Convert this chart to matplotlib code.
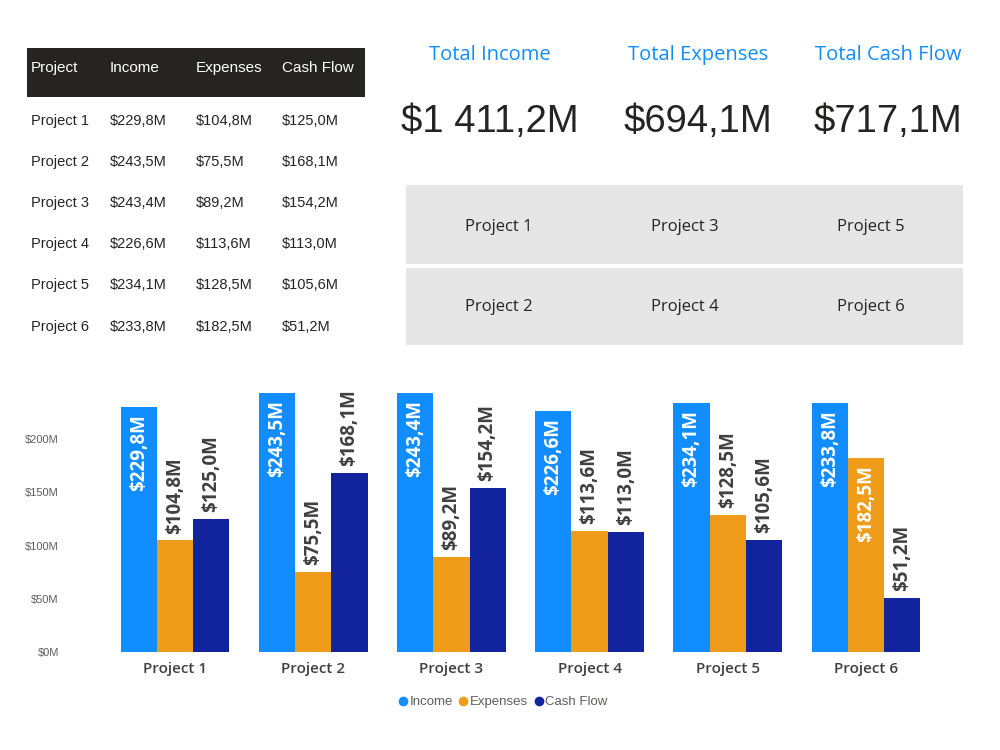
import matplotlib
matplotlib.use("Agg")
import matplotlib.pyplot as plt
from matplotlib.patches import Rectangle
from matplotlib.lines import Line2D
import numpy as np

# ---------------- data ----------------
projects = ["Project 1", "Project 2", "Project 3", "Project 4", "Project 5", "Project 6"]
income = [229.8, 243.5, 243.4, 226.6, 234.1, 233.8]
expenses = [104.8, 75.5, 89.2, 113.6, 128.5, 182.5]
cash_flow = [125.0, 168.1, 154.2, 113.0, 105.6, 51.2]
series_names = ["Income", "Expenses", "Cash Flow"]
table_headers = ["Project", "Income", "Expenses", "Cash Flow"]
kpi_titles = ["Total Income", "Total Expenses", "Total Cash Flow"]
y_ticks = [0, 50, 100, 150, 200]
inside_labels = {"Income": [True] * 6, "Expenses": [False, False, False, False, False, True],
                 "Cash Flow": [False] * 6}

# ---------------- style ----------------
C_INC = "#118DFF"
C_EXP = "#EF9C1B"
C_CF = "#12239E"
DARK = "#252423"
GRAY = "#605E5C"
NARROW = ["Liberation Sans", "DejaVu Sans"]
SEGOE = ["Open Sans", "DejaVu Sans"]

W, H = 1000, 750
fig = plt.figure(figsize=(W / 100, H / 100), dpi=100)
fig.patch.set_facecolor("white")


def fx(x):
    return x / W


def fy(y):
    return 1 - y / H


def fmt(v):
    return f"${v:.1f}M".replace(".", ",")


def fmt_total(v):
    s = f"{v:,.1f}".replace(",", " ").replace(".", ",")
    return f"${s}M"


# ---------------- table ----------------
fig.patches.append(Rectangle((fx(27), fy(97)), fx(365) - fx(27), fy(48) - fy(97),
                             transform=fig.transFigure, facecolor="#252423",
                             edgecolor="none", zorder=0))
col_x = [31, 110, 196, 282]
for cx, h in zip(col_x, table_headers):
    fig.text(fx(cx), fy(72), h, color="white", fontsize=11, family=NARROW,
             ha="left", va="baseline")
row_y = [125, 166, 207, 248, 289, 331]
for i, p in enumerate(projects):
    vals = [p, fmt(income[i]), fmt(expenses[i]), fmt(cash_flow[i])]
    for cx, v in zip(col_x, vals):
        fig.text(fx(cx), fy(row_y[i]), v, color=DARK, fontsize=10.5, family=NARROW,
                 ha="left", va="baseline")

# ---------------- KPI cards ----------------
totals = [sum(income), sum(expenses), sum(cash_flow)]
kpi_x = [490, 698, 888]
for kx, t, v in zip(kpi_x, kpi_titles, totals):
    fig.text(fx(kx), fy(60), t, color=C_INC, fontsize=14.5, family=SEGOE,
             ha="center", va="baseline")
    fig.text(fx(kx), fy(132), fmt_total(v), color=DARK, fontsize=27.5, family=NARROW,
             ha="center", va="baseline")

# ---------------- slicer ----------------
for (top, bot) in [(185, 264), (268, 345)]:
    fig.patches.append(Rectangle((fx(406), fy(bot)), fx(963) - fx(406), fy(top) - fy(bot),
                                 transform=fig.transFigure, facecolor="#E6E6E6",
                                 edgecolor="none", zorder=0))
slicer_x = [499, 685, 871]
slicer_y = [227, 307]
for i, p in enumerate(projects):
    col, row = i // 2, i % 2
    fig.text(fx(slicer_x[col]), fy(slicer_y[row]), p, color=DARK, fontsize=12,
             family=SEGOE, ha="center", va="center")

# ---------------- bar chart ----------------
ax = fig.add_axes([fx(106), fy(652), fx(935) - fx(106), fy(386) - fy(652)])
x = np.arange(len(projects))
bw = 0.262
series = [income, expenses, cash_flow]
colors = [C_INC, C_EXP, C_CF]
offsets = [-bw, 0, bw]
for name, vals, col, off in zip(series_names, series, colors, offsets):
    bars = ax.bar(x + off, vals, width=bw, color=col, edgecolor="none", zorder=2)
    for j, (b, v) in enumerate(zip(bars, vals)):
        cx = b.get_x() + b.get_width() / 2
        if inside_labels[name][j]:
            ax.annotate(fmt(v), (cx, v), xytext=(0, -5), textcoords="offset points",
                        rotation=90, ha="center", va="top", color="white",
                        fontsize=13.5, fontweight="bold", family=SEGOE)
        else:
            ax.annotate(fmt(v), (cx, v), xytext=(0, 5), textcoords="offset points",
                        rotation=90, ha="center", va="bottom", color="#404040",
                        fontsize=13.5, fontweight="bold", family=SEGOE)

ax.set_xlim(-0.5, 5.5)
ax.set_ylim(0, 250)
ax.set_yticks(y_ticks)
ax.set_yticklabels([f"${t}M" for t in y_ticks], family=NARROW, fontsize=8, color=GRAY)
ax.set_xticks(x)
ax.set_xticklabels(projects, family=SEGOE, fontsize=11, color="#404040",
                   fontweight="semibold")
for s in ax.spines.values():
    s.set_visible(False)
ax.tick_params(axis="both", length=0)
ax.tick_params(axis="y", pad=34)
ax.tick_params(axis="x", pad=7)

handles = [Line2D([0], [0], marker="o", linestyle="none", markersize=7,
                  markerfacecolor=c, markeredgecolor="none") for c in colors]
fig.legend(handles, series_names, loc="center", bbox_to_anchor=(fx(502), fy(702)),
           ncol=3, frameon=False, handletextpad=0.0, columnspacing=0.3,
           handlelength=1.0, prop={"family": NARROW, "size": 9.5},
           labelcolor=GRAY)

fig.savefig("out.png", dpi=100, facecolor="white")
